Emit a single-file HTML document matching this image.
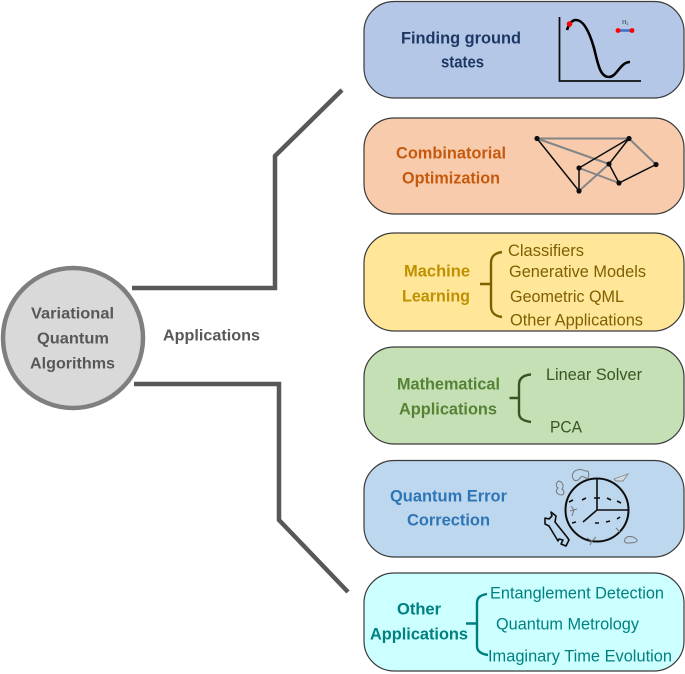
<!DOCTYPE html>
<html>
<head>
<meta charset="utf-8">
<style>
html,body{margin:0;padding:0;background:#fff;}
svg{display:block;}
text{font-family:"Liberation Sans",Arial,sans-serif;}
.t{font-size:16.8px;font-weight:bold;}
.c{font-size:16px;font-weight:bold;}
.r{font-size:16.6px;}
</style>
</head>
<body>
<svg width="685" height="674" viewBox="0 0 685 674" xmlns="http://www.w3.org/2000/svg">
<defs><filter id="b" filterUnits="userSpaceOnUse" x="0" y="0" width="685" height="674"><feGaussianBlur stdDeviation="0.35"/></filter></defs>
<rect width="685" height="674" fill="#fff"/>
<g filter="url(#b)">

<!-- connectors -->
<polyline points="132,288 275,288 275,156 342,90" fill="none" stroke="#595959" stroke-width="4.5"/>
<polyline points="134,384 279,384 279,520 348,592" fill="none" stroke="#595959" stroke-width="4.5"/>

<!-- central circle -->
<circle cx="73" cy="338" r="70" fill="#d9d9d9" stroke="#7f7f7f" stroke-width="4.5"/>
<text class="c" x="31" y="318.5" textLength="83" lengthAdjust="spacingAndGlyphs" fill="#595959">Variational</text>
<text class="c" x="37" y="343.5" textLength="72" lengthAdjust="spacingAndGlyphs" fill="#595959">Quantum</text>
<text class="c" x="30" y="368.5" textLength="85" lengthAdjust="spacingAndGlyphs" fill="#595959">Algorithms</text>
<text class="c" x="163" y="340.5" textLength="97" lengthAdjust="spacingAndGlyphs" fill="#595959">Applications</text>

<!-- boxes -->
<rect x="364" y="1.5" width="320" height="96.5" rx="30" fill="#b4c7e7" stroke="#3a3a3a" stroke-width="1.2"/>
<rect x="364" y="118" width="320" height="96" rx="30" fill="#f8cbad" stroke="#3a3a3a" stroke-width="1.2"/>
<rect x="364" y="233" width="320" height="98" rx="30" fill="#ffe699" stroke="#3a3a3a" stroke-width="1.2"/>
<rect x="364" y="347" width="320" height="97" rx="30" fill="#c5e0b4" stroke="#3a3a3a" stroke-width="1.2"/>
<rect x="364" y="460.5" width="320" height="96.5" rx="30" fill="#bdd7ee" stroke="#3a3a3a" stroke-width="1.2"/>
<rect x="364" y="573" width="320" height="98" rx="30" fill="#ccffff" stroke="#3a3a3a" stroke-width="1.2"/>

<!-- box 1 -->
<text class="t" x="401" y="43.5" textLength="120" lengthAdjust="spacingAndGlyphs" fill="#1f3864">Finding ground</text>
<text class="t" x="441" y="67.5" textLength="43" lengthAdjust="spacingAndGlyphs" fill="#1f3864">states</text>
<polyline points="559.5,17 559.5,81 641,81" fill="none" stroke="#111" stroke-width="1.8"/>
<path d="M567,30 C569,24 572,20 576,20 C584,20 590,34 594,48 C598,64 600,77 609,77 C617,77 620,62 630,62" fill="none" stroke="#000" stroke-width="2.6"/>
<circle cx="569.5" cy="24" r="2.8" fill="#f00"/>
<line x1="618" y1="30.5" x2="632" y2="30.5" stroke="#3f6fc4" stroke-width="2.6"/>
<circle cx="618" cy="30.5" r="2.4" fill="#f00"/>
<circle cx="632" cy="30.5" r="2.4" fill="#f00"/>
<text x="622" y="24" style="font-family:'Liberation Serif',serif;font-size:6px" fill="#333">H<tspan font-size="4" dy="1">2</tspan></text>

<!-- box 2 -->
<text class="t" x="396" y="158.5" textLength="110" lengthAdjust="spacingAndGlyphs" fill="#c55a11">Combinatorial</text>
<text class="t" x="402" y="183.5" textLength="98" lengthAdjust="spacingAndGlyphs" fill="#c55a11">Optimization</text>
<g fill="none">
<g stroke="#858585" stroke-width="2">
<line x1="537" y1="138.5" x2="629" y2="138.5"/>
<line x1="537" y1="138.5" x2="609" y2="164"/>
<line x1="629" y1="138.5" x2="656" y2="164.5"/>
<line x1="579" y1="168" x2="619" y2="183"/>
<line x1="609" y1="164" x2="579" y2="191"/>
</g>
<g stroke="#111" stroke-width="1.5">
<line x1="537" y1="138.5" x2="579" y2="191"/>
<line x1="579" y1="168" x2="579" y2="191"/>
<line x1="579" y1="168" x2="629" y2="138.5"/>
<line x1="609" y1="164" x2="629" y2="138.5"/>
<line x1="609" y1="164" x2="619" y2="183"/>
<line x1="619" y1="183" x2="656" y2="164.5"/>
</g>
</g>
<g fill="#111">
<circle cx="537" cy="138.5" r="2.6"/><circle cx="629" cy="138.5" r="2.6"/><circle cx="656" cy="164.5" r="2.6"/>
<circle cx="609" cy="164" r="2.6"/><circle cx="579" cy="168" r="2.6"/><circle cx="619" cy="183" r="2.6"/><circle cx="579" cy="191" r="2.6"/>
</g>

<!-- box 3 -->
<text class="t" x="404" y="276.5" textLength="66" lengthAdjust="spacingAndGlyphs" fill="#bf9000">Machine</text>
<text class="t" x="402" y="301.5" textLength="68" lengthAdjust="spacingAndGlyphs" fill="#bf9000">Learning</text>
<path d="M502,252 C495,253 491,256 491,263 L491,306 C491,313 495,316 502,317 M480,284 L491,284" fill="none" stroke="#7f6000" stroke-width="2.4"/>
<text class="r" x="508" y="256" textLength="76" lengthAdjust="spacingAndGlyphs" fill="#7f6000">Classifiers</text>
<text class="r" x="509" y="277" textLength="137" lengthAdjust="spacingAndGlyphs" fill="#7f6000">Generative Models</text>
<text class="r" x="510" y="302" textLength="114" lengthAdjust="spacingAndGlyphs" fill="#7f6000">Geometric QML</text>
<text class="r" x="510" y="325.5" textLength="133" lengthAdjust="spacingAndGlyphs" fill="#7f6000">Other Applications</text>

<!-- box 4 -->
<text class="t" x="397" y="389.5" textLength="103" lengthAdjust="spacingAndGlyphs" fill="#548235">Mathematical</text>
<text class="t" x="399" y="414.5" textLength="98" lengthAdjust="spacingAndGlyphs" fill="#548235">Applications</text>
<path d="M531,374.5 C524,375 519,378 519,385 L519,413 C519,419 524,421 531,422 M509.5,398 L519,398" fill="none" stroke="#385723" stroke-width="2.4"/>
<text class="r" x="546" y="380" textLength="96" lengthAdjust="spacingAndGlyphs" fill="#385723">Linear Solver</text>
<text class="r" x="550" y="432.5" textLength="32" lengthAdjust="spacingAndGlyphs" fill="#385723">PCA</text>

<!-- box 5 -->
<text class="t" x="390" y="501.5" textLength="117" lengthAdjust="spacingAndGlyphs" fill="#2e75b6">Quantum Error</text>
<text class="t" x="407" y="525.5" textLength="83" lengthAdjust="spacingAndGlyphs" fill="#2e75b6">Correction</text>
<circle cx="597" cy="510" r="31.5" fill="none" stroke="#111" stroke-width="2"/>
<path d="M597,479 L597,510 L628,510 M597,510 L583,522" fill="none" stroke="#111" stroke-width="1.6"/>
<path d="M569,502 L573,500 M582,500 L586,498 M594,498 L600,498 M607,498 L611,500 M617,501 L621,503 M572,523 L576,522 M595,523 L599,523 M606,522 L610,521 M617,519 L620,517" fill="none" stroke="#111" stroke-width="1.6"/>
<path d="M574,510 L572,516 M570,511 L577,509 M571,506 L574,510 M587,538 L592,541 L596,537 M592,541 L590,545 M616,528 L620,532" fill="none" stroke="#777" stroke-width="1"/>
<path d="M574,480 C570,475 574,470 578,470 C581,468 584,471 586,471 C590,470 589,478 587,479 C584,476 581,476 580,478 C578,481 576,481 574,480 Z" fill="none" stroke="#777" stroke-width="1"/>
<path d="M559,481 C555,483 556,487 558,488 C554,492 558,495 562,495 C565,494 564,490 562,489 C564,487 563,482 559,481 Z" fill="none" stroke="#777" stroke-width="1"/>
<path d="M614,479 L628,474 L623,481 L616,481 Z" fill="#d5dbe3" stroke="#888" stroke-width="0.9"/>
<path d="M625,539 C627,535 634,536 637,540 C638,543 630,543 627,543 C625,543 624,541 625,539 Z" fill="none" stroke="#777" stroke-width="1"/>
<!-- wrench -->
<path d="M551,512 L556,516 L555,522 L567,537 L569,540 L566,546 L561,544 L563,540 L559,539 L558,541 L549,526 L545,524 L545,518 L549,519 L552,516 Z" fill="#bdd7ee" stroke="#111" stroke-width="1.6" stroke-linejoin="round"/>

<!-- box 6 -->
<text class="t" x="397" y="614.5" textLength="44" lengthAdjust="spacingAndGlyphs" fill="#008080">Other</text>
<text class="t" x="370" y="639.5" textLength="98" lengthAdjust="spacingAndGlyphs" fill="#008080">Applications</text>
<path d="M487,594 C481,595 477,597 477,603 L477,646 C477,651 481,654 488,655 M466,623.5 L477,623.5" fill="none" stroke="#007d7d" stroke-width="2.4"/>
<text class="r" x="490" y="598.5" textLength="174" lengthAdjust="spacingAndGlyphs" fill="#008080">Entanglement Detection</text>
<text class="r" x="496" y="629.5" textLength="143" lengthAdjust="spacingAndGlyphs" fill="#008080">Quantum Metrology</text>
<text class="r" x="488" y="661.5" textLength="184" lengthAdjust="spacingAndGlyphs" fill="#008080">Imaginary Time Evolution</text>
</g>
</svg>
</body>
</html>
